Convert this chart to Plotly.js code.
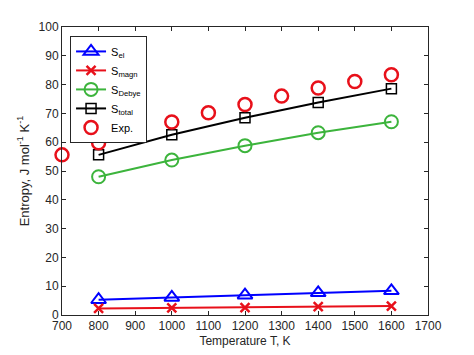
<!DOCTYPE html>
<html>
<head>
<meta charset="utf-8">
<script src="https://cdn.plot.ly/plotly-3.0.1.min.js"></script>
<style>html,body{margin:0;padding:0;background:#fff;}#chart{width:474px;height:355px;}</style>
</head>
<body>
<div id="chart"></div>
<script>
const T = [800, 1000, 1200, 1400, 1600];
const S_el = [5.3, 6.1, 6.9, 7.7, 8.4];
const S_magn = [2.3, 2.5, 2.6, 2.9, 3.1];
const S_debye = [48.0, 53.8, 58.8, 63.3, 67.1];
const S_total = [55.6, 62.6, 68.5, 73.8, 78.6];
const T_exp = [700, 800, 900, 1000, 1100, 1200, 1300, 1400, 1500, 1600];
const S_exp = [55.6, 59.8, 63.5, 67.0, 70.2, 73.1, 76.0, 78.8, 81.1, 83.4];
const xTicks = [700, 800, 900, 1000, 1100, 1200, 1300, 1400, 1500, 1600, 1700];
const yTicks = [0, 10, 20, 30, 40, 50, 60, 70, 80, 90, 100];

const traces = [
  {x: T, y: S_el, name: 'S<sub>el</sub>', mode: 'lines+markers',
   line: {color: '#0000ff', width: 2},
   marker: {symbol: 'triangle-up-open', size: 13, color: '#0000ff', line: {width: 2}}},
  {x: T, y: S_magn, name: 'S<sub>magn</sub>', mode: 'lines+markers',
   line: {color: '#e8101a', width: 2},
   marker: {symbol: 'x-thin-open', size: 9, color: '#e8101a', line: {width: 2.5, color: '#e8101a'}}},
  {x: T, y: S_debye, name: 'S<sub>Debye</sub>', mode: 'lines+markers',
   line: {color: '#3cb43c', width: 2},
   marker: {symbol: 'circle-open', size: 13, color: '#3cb43c', line: {width: 2}}},
  {x: T, y: S_total, name: 'S<sub>total</sub>', mode: 'lines+markers',
   line: {color: '#000000', width: 2},
   marker: {symbol: 'square-open', size: 10, color: '#000000', line: {width: 1.5}}},
  {x: T_exp, y: S_exp, name: 'Exp.', mode: 'markers',
   marker: {symbol: 'circle-open', size: 13, color: '#e8101a', line: {width: 2.5}}}
];
traces.forEach(t => t.cliponaxis = false);

const axisCommon = {
  showline: true, linecolor: '#262626', linewidth: 1, mirror: 'ticks',
  ticks: 'inside', ticklen: 4, tickcolor: '#262626', showgrid: false, zeroline: false,
  tickfont: {family: 'Liberation Sans, Arial, sans-serif', size: 12, color: '#262626'}
};

const layout = {
  width: 474, height: 355,
  margin: {l: 62, r: 46, t: 27, b: 40},
  paper_bgcolor: '#ffffff', plot_bgcolor: '#ffffff',
  showlegend: true,
  legend: {x: 0.022, y: 0.969, xanchor: 'left', yanchor: 'top',
    bgcolor: '#ffffff', bordercolor: '#262626', borderwidth: 1,
    font: {family: 'Liberation Sans, Arial, sans-serif', size: 11, color: '#000'},
    tracegroupgap: 0, itemwidth: 30},
  xaxis: Object.assign({}, axisCommon, {range: [700, 1700], tickvals: xTicks,
    title: {text: 'Temperature T, K', standoff: 4,
      font: {family: 'Liberation Sans, Arial, sans-serif', size: 12, color: '#262626'}}}),
  yaxis: Object.assign({}, axisCommon, {range: [0, 100], tickvals: yTicks,
    title: {text: 'Entropy, J mol<sup>-1</sup> K<sup>-1</sup>', standoff: 6,
      font: {family: 'Liberation Sans, Arial, sans-serif', size: 13, color: '#262626'}}})
};

Plotly.newPlot('chart', traces, layout, {displayModeBar: false, staticPlot: true});
</script>
</body>
</html>
